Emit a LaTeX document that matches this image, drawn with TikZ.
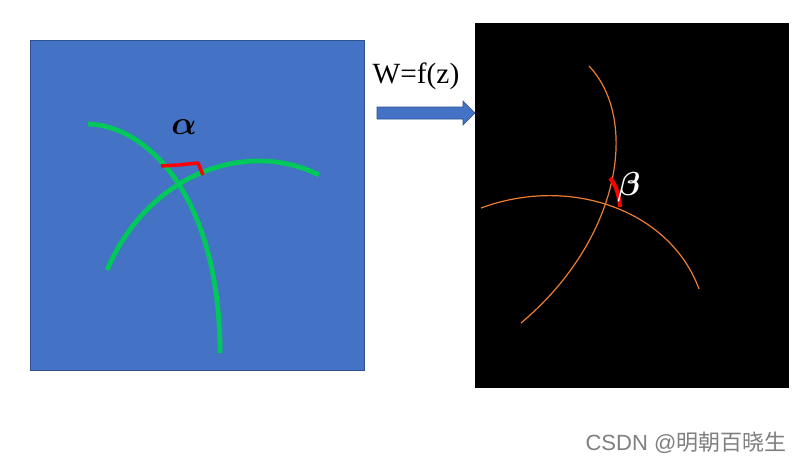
\documentclass[tikz,border=0pt]{standalone}
\usepackage{bm}
\usepackage{fontspec}
\setmainfont{Liberation Serif}
\newfontfamily\cjk{Noto Sans CJK SC}
\begin{document}
\begin{tikzpicture}[x=0.75pt,y=-0.75pt,
  green/.style={draw={rgb,255:red,0;green,200;blue,90},line width=3.6pt},
  orng/.style={draw={rgb,255:red,237;green,125;blue,49},line width=0.9pt},
  bluefill/.style={draw={rgb,255:red,47;green,82;blue,143},fill={rgb,255:red,68;green,114;blue,196}}]
\useasboundingbox (0,0) rectangle (801,462);
\fill[white] (0,0) rectangle (801,462);
\node[bluefill,minimum width=334*0.75pt,minimum height=330*0.75pt,inner sep=0,anchor=north west] (L) at (30,40) {};
\draw[green] (88,124) .. controls (150,126) and (220,200) .. (220,353);
\draw[green] (107,270) .. controls (150,170) and (250,140) .. (319,175);
\draw[red,line width=2.6pt,line join=round] (161,166) -- (178,165) -- (198,163) -- (203,175);
\node[font=\fontsize{23}{23}\selectfont] (a) at (184,127) {$\bm\alpha$};
\node[font=\fontsize{22}{22}\selectfont] (t) at (416,76) {W=f(z)};
\draw[bluefill] (377,107) -- (463,107) -- (463,101) -- (475,113) -- (463,125) -- (463,119) -- (377,119) -- cycle;
\node[fill=black,minimum width=314*0.75pt,minimum height=365*0.75pt,inner sep=0,anchor=north west] (R) at (475,23) {};
\draw[orng] (589,66) .. controls (640,120) and (620,240) .. (521,323);
\draw[orng] (481,208) .. controls (570,175) and (670,210) .. (699,289);
\draw[red,line width=3pt] (610,178) .. controls (616,185) and (619,195) .. (620,207);
\node[white,font=\fontsize{23}{23}\selectfont] (b) at (629,187) {$\bm\beta$};
\node[gray,font=\fontsize{16.5}{16.5}\selectfont] (w) at (686,443) {\fontspec{Liberation Sans}CSDN @\cjk 明朝百晓生};
\end{tikzpicture}
\end{document}
